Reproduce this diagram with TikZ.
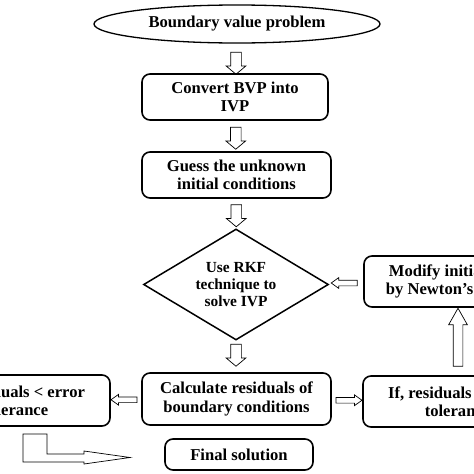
\documentclass[tikz,border=0pt]{standalone}
\usepackage{fontspec}
\setmainfont{Liberation Serif}
\usepackage{tikz}
\usetikzlibrary{shapes, shapes.geometric, shapes.arrows, arrows.meta, calc}

\newcommand{\flowfont}{\fontsize{16.6}{18.5}\selectfont\bfseries}
\newcommand{\rkffont}{\fontsize{15.4}{17.3}\selectfont\bfseries}

\tikzset{
  stepbox/.style={draw, line width=1.6pt, rounded corners=8pt, align=center,
                  inner sep=0pt, minimum width=189pt, minimum height=51pt, font=\flowfont},
  startnode/.style={ellipse, draw, line width=1.3pt, inner sep=0pt,
                  minimum width=286pt, minimum height=38pt, font=\flowfont},
  testnode/.style={diamond, draw, line width=1.5pt, inner sep=0pt, aspect=1.67,
                  minimum width=185pt, minimum height=111pt, align=center, font=\rkffont},
  blockarrow/.style={single arrow, draw, line width=0.7pt, inner sep=5pt,
                  single arrow head extend=4.5pt, single arrow tip angle=100,
                  minimum height=22pt},
  smallarrow/.style={single arrow, draw, line width=0.7pt, inner sep=2.5pt,
                  single arrow head extend=2.5pt, single arrow tip angle=71,
                  minimum height=26pt},
  bigarrow/.style={single arrow, draw, line width=0.7pt, inner sep=4.5pt,
                  single arrow head extend=4.5pt, single arrow tip angle=59,
                  minimum height=58pt}
}

\begin{document}
\begin{tikzpicture}[x=1pt, y=-1pt]
  \useasboundingbox (0,0) rectangle (474,474);
  \clip (0,0) rectangle (474,474);

  % main column
  \node[startnode] (bvp) at (237,24) {Boundary value problem};
  \node[stepbox, minimum width=186pt, minimum height=46pt] (convert) at (235,97) {Convert BVP into\\IVP};
  \node[stepbox, minimum height=46pt] (guess) at (236.5,175) {Guess the unknown\\initial conditions};
  \node[testnode] (rkf) at (236,284.5) {Use RKF\\technique to\\solve IVP};
  \node[stepbox, minimum height=52pt] (resid) at (236.5,399) {Calculate residuals of\\boundary conditions};
  \node[stepbox, minimum width=148pt, minimum height=31pt] (final) at (239,454.5) {Final solution};

  % side boxes
  \node[stepbox] (less) at (15.5,400.5) {If, residuals < error\\tolerance};
  \node[stepbox] (more) at (457.5,401.5) {If, residuals > error\\tolerance};
  \node[stepbox] (modify) at (458.5,281.5) {Modify initial guess\\by Newton’s method};

  % hollow arrows
  \node[blockarrow, shape border rotate=270] (a1) at (236,61) {};
  \node[blockarrow, shape border rotate=270] (a2) at ($(convert.south)!0.5!(guess.north)$) {};
  \node[blockarrow, shape border rotate=270] (a3) at ($(guess.south)!0.5!(rkf.north)$) {};
  \node[blockarrow, shape border rotate=270] (a4) at (236,353) {};
  \node[smallarrow, shape border rotate=180] (a5) at ($(resid.west)!0.5!(less.east)$) {};
  \node[smallarrow] (a6) at ($(resid.east)!0.5!(more.west)$) {};
  \node[smallarrow, shape border rotate=180] (a7) at ($(rkf.east)!0.5!(modify.west)$) {};
  \node[bigarrow, shape border rotate=90] (a8) at ($(more.north)!0.5!(modify.south)$) {};

  % bent arrow to final solution
  \draw[line width=0.7pt] (23,434) -- (47,434) -- (47,454) -- (84,454) -- (84,451)
    -- (130,457.5) -- (84,464) -- (84,462) -- (23,462) -- cycle;
\end{tikzpicture}
\end{document}
